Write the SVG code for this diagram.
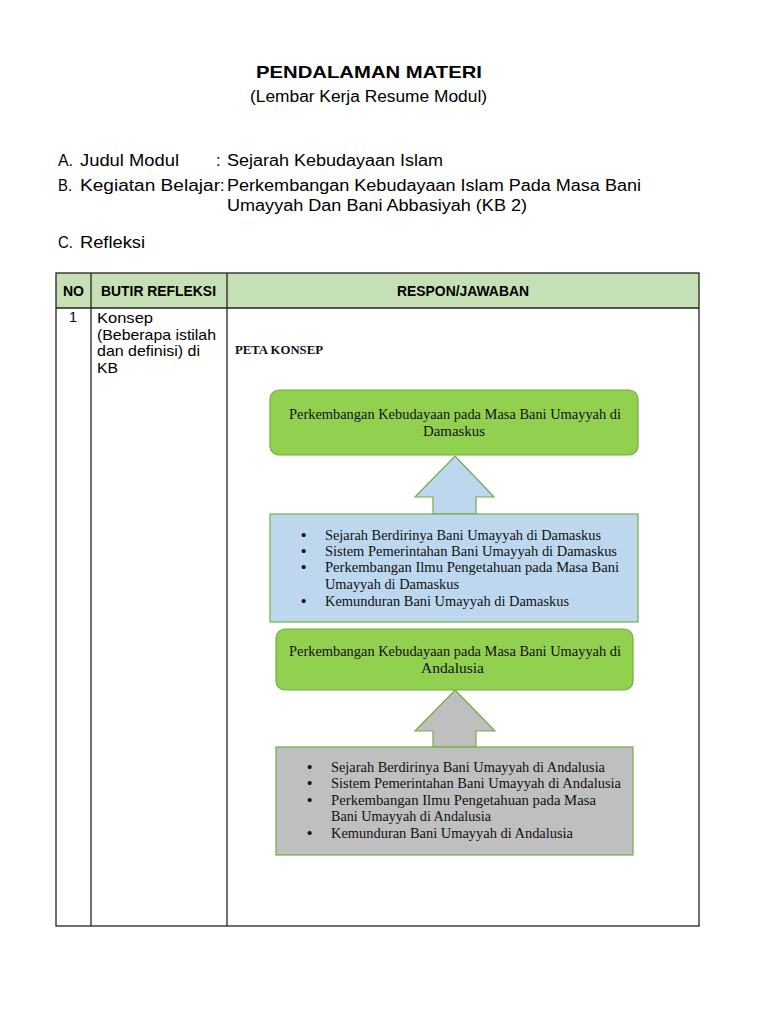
<svg xmlns="http://www.w3.org/2000/svg" width="768" height="1024" viewBox="0 0 768 1024">
<style>
.s{font-family:"Liberation Sans",Arial,sans-serif;fill:#000}
.b{font-size:16px}
.h{font-size:14px;font-weight:bold}
.c{font-size:14.5px}
.f{font-family:"Liberation Serif","DejaVu Serif",serif;fill:#111;font-size:14.5px}
.dot{font-family:"Liberation Sans",Arial,sans-serif;fill:#111;font-size:15px}
.grid{stroke:#222;stroke-width:1.3;fill:none}
.green{fill:#92d050;stroke:#70ad47;stroke-width:1.2}
.arrowBlue{fill:#bdd7ee;stroke:#70ad47;stroke-width:1.2}
.arrowGray{fill:#bfbfbf;stroke:#70ad47;stroke-width:1.2}
</style>
<rect width="768" height="1024" fill="#fff"/>
<g id="header">
<text class="s" x="256" y="78" font-size="17" font-weight="bold" textLength="226" lengthAdjust="spacingAndGlyphs">PENDALAMAN MATERI</text>
<text class="s b" x="250" y="102" textLength="237" lengthAdjust="spacingAndGlyphs">(Lembar Kerja Resume Modul)</text>
<text class="s b" x="58" y="166" textLength="15" lengthAdjust="spacingAndGlyphs">A.</text>
<text class="s b" x="80" y="166" textLength="99" lengthAdjust="spacingAndGlyphs">Judul Modul</text>
<text class="s b" x="216" y="166">:</text>
<text class="s b" x="227" y="166" textLength="216" lengthAdjust="spacingAndGlyphs">Sejarah Kebudayaan Islam</text>
<text class="s b" x="58" y="191" textLength="14" lengthAdjust="spacingAndGlyphs">B.</text>
<text class="s b" x="80" y="191" textLength="140" lengthAdjust="spacingAndGlyphs">Kegiatan Belajar</text>
<text class="s b" x="220" y="191">:</text>
<text class="s b" x="227" y="191" textLength="414" lengthAdjust="spacingAndGlyphs">Perkembangan Kebudayaan Islam Pada Masa Bani</text>
<text class="s b" x="227" y="211" textLength="300" lengthAdjust="spacingAndGlyphs">Umayyah Dan Bani Abbasiyah (KB 2)</text>
<text class="s b" x="58" y="248" textLength="15" lengthAdjust="spacingAndGlyphs">C.</text>
<text class="s b" x="80" y="248" textLength="65" lengthAdjust="spacingAndGlyphs">Refleksi</text>
</g>
<g id="table">
<rect x="56" y="273" width="643" height="35" fill="#c5e0b4"/>
<rect class="grid" x="56" y="273" width="643" height="653"/>
<line class="grid" x1="56" y1="308" x2="699" y2="308"/>
<line class="grid" x1="91" y1="273" x2="91" y2="926"/>
<line class="grid" x1="227" y1="273" x2="227" y2="926"/>
<text class="s h" x="63" y="296" textLength="21" lengthAdjust="spacingAndGlyphs">NO</text>
<text class="s h" x="101" y="296" textLength="115" lengthAdjust="spacingAndGlyphs">BUTIR REFLEKSI</text>
<text class="s h" x="397" y="296" textLength="132" lengthAdjust="spacingAndGlyphs">RESPON/JAWABAN</text>
<text class="s c" x="73" y="322" text-anchor="middle">1</text>
<text class="s c" x="97" y="323" textLength="56" lengthAdjust="spacingAndGlyphs">Konsep</text>
<text class="s c" x="97" y="340" textLength="119" lengthAdjust="spacingAndGlyphs">(Beberapa istilah</text>
<text class="s c" x="97" y="356" textLength="103" lengthAdjust="spacingAndGlyphs">dan definisi) di</text>
<text class="s c" x="97" y="373" textLength="21" lengthAdjust="spacingAndGlyphs">KB</text>
<text class="f" x="235" y="354" font-weight="bold" textLength="88" lengthAdjust="spacingAndGlyphs" style="font-size:13px">PETA KONSEP</text>
</g>
<g id="connectors">
<polygon class="arrowBlue" points="455,456 494,497 476,497 476,514 433,514 433,497 415,497"/>
<polygon class="arrowGray" points="455,690 495,731 476,731 476,747 433,747 433,731 415,731"/>
</g>
<g id="node-damaskus">
<rect class="green" x="270" y="390" width="368" height="65" rx="9"/>
<text class="f" x="289" y="419" textLength="332" lengthAdjust="spacingAndGlyphs">Perkembangan Kebudayaan pada Masa Bani Umayyah di</text>
<text class="f" x="423" y="436" textLength="62" lengthAdjust="spacingAndGlyphs">Damaskus</text>
</g>
<g id="node-damaskus-list">
<rect x="270" y="514" width="368" height="108" fill="#bdd7ee" stroke="#70ad47" stroke-width="1.2"/>
<text class="dot" x="301" y="540">•</text><text class="f" x="325" y="540" textLength="276" lengthAdjust="spacingAndGlyphs">Sejarah Berdirinya Bani Umayyah di Damaskus</text>
<text class="dot" x="301" y="556">•</text><text class="f" x="325" y="556" textLength="292" lengthAdjust="spacingAndGlyphs">Sistem Pemerintahan Bani Umayyah di Damaskus</text>
<text class="dot" x="301" y="572">•</text><text class="f" x="325" y="572" textLength="294" lengthAdjust="spacingAndGlyphs">Perkembangan Ilmu Pengetahuan pada Masa Bani</text>
<text class="f" x="325" y="589" textLength="134" lengthAdjust="spacingAndGlyphs">Umayyah di Damaskus</text>
<text class="dot" x="301" y="606">•</text><text class="f" x="325" y="606" textLength="244" lengthAdjust="spacingAndGlyphs">Kemunduran Bani Umayyah di Damaskus</text>
</g>
<g id="node-andalusia">
<rect class="green" x="276" y="629" width="357" height="61" rx="9"/>
<text class="f" x="289" y="656" textLength="332" lengthAdjust="spacingAndGlyphs">Perkembangan Kebudayaan pada Masa Bani Umayyah di</text>
<text class="f" x="421" y="673" textLength="63" lengthAdjust="spacingAndGlyphs">Andalusia</text>
</g>
<g id="node-andalusia-list">
<rect x="276" y="747" width="357" height="108" fill="#bfbfbf" stroke="#70ad47" stroke-width="1.2"/>
<text class="dot" x="307" y="772">•</text><text class="f" x="331" y="772" textLength="274" lengthAdjust="spacingAndGlyphs">Sejarah Berdirinya Bani Umayyah di Andalusia</text>
<text class="dot" x="307" y="788">•</text><text class="f" x="331" y="788" textLength="290" lengthAdjust="spacingAndGlyphs">Sistem Pemerintahan Bani Umayyah di Andalusia</text>
<text class="dot" x="307" y="805">•</text><text class="f" x="331" y="805" textLength="265" lengthAdjust="spacingAndGlyphs">Perkembangan Ilmu Pengetahuan pada Masa</text>
<text class="f" x="331" y="821" textLength="160" lengthAdjust="spacingAndGlyphs">Bani Umayyah di Andalusia</text>
<text class="dot" x="307" y="838">•</text><text class="f" x="331" y="838" textLength="242" lengthAdjust="spacingAndGlyphs">Kemunduran Bani Umayyah di Andalusia</text>
</g>
</svg>
